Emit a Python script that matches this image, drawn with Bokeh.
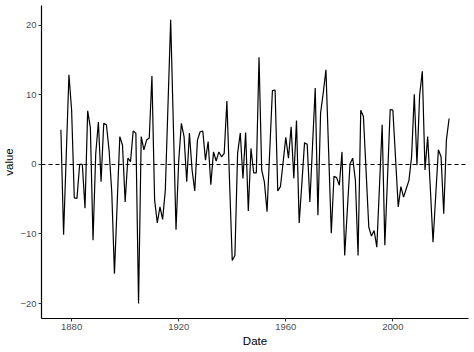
from bokeh.plotting import figure
from bokeh.models import Range1d, FixedTicker, Span, ColumnDataSource
from bokeh.embed import file_html
from bokeh.resources import INLINE

start_year = 1876
values = [
    5.0, -10.1, 1.4, 12.9, 7.8, -4.8, -4.9, 0.0, 0.0, -6.3,
    7.7, 5.3, -10.9, 1.5, 6.1, -2.5, 5.9, 5.7, 2.0, -4.0,
    -15.7, -5.8, 4.0, 2.8, -5.4, 0.9, 0.4, 4.8, 4.5, -20.0,
    4.0, 2.1, 3.5, 3.8, 12.7, -5.1, -8.4, -6.1, -7.9, -3.7,
    8.5, 20.8, 5.7, -9.4, 0.5, 5.9, 4.0, -2.5, 4.5, -0.8,
    -3.8, 3.5, 4.7, 4.8, 0.6, 3.3, -2.9, 1.8, 0.5, 1.8,
    1.1, 1.6, 9.1, -2.5, -13.8, -13.1, 1.6, 4.5, -2.0, 4.6,
    -6.7, 2.3, -1.2, -1.2, 15.4, -0.8, -2.5, -6.8, 1.9, 10.6,
    10.7, -3.8, -3.2, 0.3, 3.9, 0.9, 5.4, -2.0, 6.3, -8.4,
    -2.8, 3.1, 2.9, -5.4, 2.8, 11.0, -7.3, 7.4, 10.3, 13.6,
    1.9, -9.9, -1.7, -1.9, -3.0, 1.8, -13.1, -6.5, 0.1, 0.9,
    -2.3, -13.1, 7.8, 6.9, -1.0, -9.0, -10.3, -9.5, -11.9, -3.1,
    5.7, -11.6, -1.9, 7.9, 7.8, 0.9, -6.1, -3.2, -4.7, -3.5,
    -2.3, 1.1, 10.1, -0.1, 10.0, 13.4, -0.8, 4.0, -3.5, -11.2,
    -4.5, 2.1, 1.1, -7.1, 3.5, 6.6,
]
years = [start_year + i for i in range(len(values))]
x_ticks = [1880, 1920, 1960, 2000]
y_ticks = [-20, -10, 0, 10, 20]

src = ColumnDataSource(dict(Date=years, value=values))

p = figure(width=474, height=352, output_backend="svg", toolbar_location=None,
           x_range=Range1d(1868.75, 2028.25), y_range=Range1d(-22.15, 22.85),
           min_border_left=38, min_border_right=6, min_border_top=5, min_border_bottom=34)

p.add_layout(Span(location=0, dimension="width", line_color="black",
                  line_width=1.1, line_dash="4 3"))
p.line("Date", "value", source=src, line_color="black", line_width=1.2)

p.xgrid.visible = False
p.ygrid.visible = False
p.outline_line_color = None
p.background_fill_color = "white"
p.border_fill_color = "white"

p.xaxis.ticker = FixedTicker(ticks=x_ticks)
p.yaxis.ticker = FixedTicker(ticks=y_ticks)
p.xaxis.axis_label = "Date"
p.yaxis.axis_label = "value"

for ax in (p.xaxis, p.yaxis):
    ax.axis_line_color = "black"
    ax.axis_line_width = 1.2
    ax.major_tick_line_color = "#333333"
    ax.major_tick_line_width = 1.1
    ax.major_tick_out = 3
    ax.major_tick_in = 0
    ax.minor_tick_out = 0
    ax.minor_tick_in = 0
    ax.major_label_text_font = "Liberation Sans"
    ax.major_label_text_font_size = "9.5px"
    ax.major_label_text_color = "#4D4D4D"
    ax.axis_label_text_font = "Liberation Sans"
    ax.axis_label_text_font_size = "11.5px"
    ax.axis_label_text_font_style = "normal"
    ax.axis_label_text_color = "black"
    ax.major_label_standoff = 2
    ax.axis_label_standoff = 2

open("out.html", "w").write(file_html(p, INLINE))
